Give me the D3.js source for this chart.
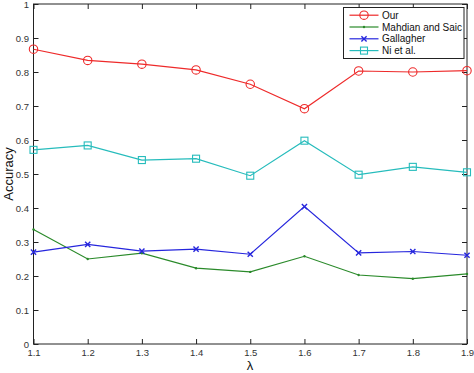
<!DOCTYPE html>
<html><head><meta charset="utf-8">
<script src="https://cdnjs.cloudflare.com/ajax/libs/d3/7.8.5/d3.min.js"></script>
<style>
body{margin:0;background:#fff;}
svg{display:block;font-family:"Liberation Sans",Arial,Helvetica,sans-serif;}
</style></head>
<body><svg id="chart" width="474" height="373"></svg>
<script>
const lambdas = [1.1,1.2,1.3,1.4,1.5,1.6,1.7,1.8,1.9];
const ourValues = [0.867,0.834,0.823,0.806,0.764,0.692,0.803,0.800,0.804];
const mahdianValues = [0.337,0.250,0.267,0.223,0.212,0.258,0.203,0.192,0.206];
const gallagherValues = [0.270,0.293,0.273,0.279,0.264,0.404,0.268,0.272,0.261];
const niValues = [0.571,0.584,0.541,0.545,0.495,0.598,0.498,0.521,0.505];
const seriesNames = ["Our","Mahdian and Saic","Gallagher","Ni et al."];
const yTicks = [0,0.1,0.2,0.3,0.4,0.5,0.6,0.7,0.8,0.9,1];
const xTicks = lambdas;

const series = [
  {name:seriesNames[0], values:ourValues, color:"#ee2a2a", marker:"circle"},
  {name:seriesNames[1], values:mahdianValues, color:"#2a8a2a", marker:"dot"},
  {name:seriesNames[2], values:gallagherValues, color:"#2626dd", marker:"x"},
  {name:seriesNames[3], values:niValues, color:"#26bcbc", marker:"square"}
];

const svg = d3.select("#chart");
const L=33.5, R=467, T=4, B=344;
const x = d3.scaleLinear().domain([1.1,1.9]).range([L,R]);
const y = d3.scaleLinear().domain([0,1]).range([B,T]);
const tickColor="#222";

// axes
const gx = svg.append("g").attr("transform",`translate(0,${B})`)
  .call(d3.axisBottom(x).tickValues(xTicks).tickSizeInner(-5).tickSizeOuter(0).tickPadding(5).tickFormat(d3.format(".1f")));
const gxt = svg.append("g").attr("transform",`translate(0,${T})`)
  .call(d3.axisTop(x).tickValues(xTicks).tickSizeInner(-5).tickSizeOuter(0).tickFormat(""));
const gy = svg.append("g").attr("transform",`translate(${L},0)`)
  .call(d3.axisLeft(y).tickValues(yTicks).tickSizeInner(-5).tickSizeOuter(0).tickPadding(4.5).tickFormat(d=>d===0?"0":d===1?"1":d3.format(".1f")(d)));
const gyr = svg.append("g").attr("transform",`translate(${R},0)`)
  .call(d3.axisRight(y).tickValues(yTicks).tickSizeInner(-5).tickSizeOuter(0).tickFormat(""));
[gx,gxt,gy,gyr].forEach(g=>{
  g.select(".domain").remove();
  g.selectAll("line").attr("stroke",tickColor);
  g.selectAll("text").attr("fill","#333").style("font-size","9.5px");
});
svg.append("rect").attr("x",L).attr("y",T).attr("width",R-L).attr("height",B-T)
  .attr("fill","none").attr("stroke",tickColor).attr("stroke-width",1);

// axis labels
svg.append("text").attr("x",250).attr("y",370).attr("text-anchor","middle")
  .style("font-size","13px").attr("fill","#111").text("λ");
svg.append("text").attr("transform",`translate(13,174) rotate(-90)`)
  .attr("text-anchor","middle").style("font-size","13px").attr("fill","#111").text("Accuracy");

const line = d3.line().x((d,i)=>x(lambdas[i])).y(d=>y(d));

function drawMarker(g, type, cx, cy, color){
  if(type==="circle"){
    g.append("circle").attr("cx",cx).attr("cy",cy).attr("r",4.2).attr("fill","none").attr("stroke",color).attr("stroke-width",1.1);
  } else if(type==="square"){
    g.append("rect").attr("x",cx-3.5).attr("y",cy-3.5).attr("width",7).attr("height",7).attr("fill","none").attr("stroke",color).attr("stroke-width",1.1);
  } else if(type==="x"){
    const s=2.6;
    g.append("path").attr("d",`M${cx-s},${cy-s}L${cx+s},${cy+s}M${cx-s},${cy+s}L${cx+s},${cy-s}`).attr("stroke",color).attr("stroke-width",1.4);
  } else if(type==="dot"){
    g.append("circle").attr("cx",cx).attr("cy",cy).attr("r",1.2).attr("fill",color);
  }
}

series.forEach(s=>{
  const g = svg.append("g");
  g.append("path").datum(s.values).attr("d",line).attr("fill","none").attr("stroke",s.color).attr("stroke-width",1.2);
  s.values.forEach((v,i)=>drawMarker(g,s.marker,x(lambdas[i]),y(v),s.color));
});

// legend
const lg = svg.append("g");
lg.append("rect").attr("x",343.5).attr("y",7.5).attr("width",120.5).attr("height",51)
  .attr("fill","#fff").attr("stroke",tickColor).attr("stroke-width",1);
series.forEach((s,i)=>{
  const yy = 15.2 + i*11.8;
  lg.append("line").attr("x1",349.5).attr("x2",378.5).attr("y1",yy).attr("y2",yy).attr("stroke",s.color).attr("stroke-width",1.2);
  drawMarker(lg,s.marker,364,yy,s.color);
  lg.append("text").attr("x",382).attr("y",yy).attr("dy","0.35em").style("font-size","10px").attr("fill","#111").text(s.name);
});
</script></body></html>
